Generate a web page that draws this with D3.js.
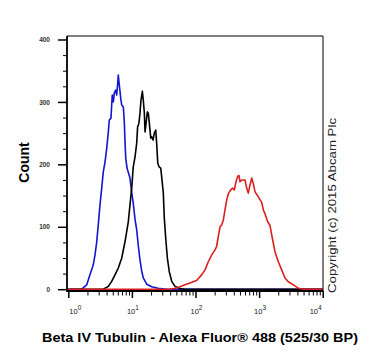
<!DOCTYPE html>
<html><head><meta charset="utf-8">
<script src="https://cdn.jsdelivr.net/npm/d3@7"></script>
<style>body{margin:0;background:#fff}</style>
</head><body><svg id="c" width="370" height="358"></svg>
<script>
const xTickValues = [1, 10, 100, 1000, 10000];
const xTickExponents = ["0", "1", "2", "3", "4"];
const yTickValues = [0, 100, 200, 300, 400];
const yMinorValues = [25,50,75,125,150,175,225,250,275,325,350,375];

const blueSeries = [[1,0],[1.62,0],[1.95,7],[2.19,23],[2.33,31],[2.47,39],[2.63,55],[2.80,76],[2.96,103],[3.15,135],[3.35,162],[3.55,188],[3.78,204],[4.02,226],[4.26,252],[4.41,271],[4.69,274],[4.81,295],[4.92,311],[5.10,300],[5.29,314],[5.56,319],[5.77,311],[5.98,330],[6.11,343],[6.34,327],[6.67,306],[6.92,295],[7.33,292],[7.60,268],[7.79,236],[8.00,210],[8.38,194],[9.33,178],[9.93,155],[10.5,138],[11.2,112],[11.9,95],[12.6,70],[13.4,47],[14.2,30],[15.1,18],[17.1,8],[20.5,4],[25.7,1.6],[35,0],[10000,0]];

const blackSeries = [[1,0],[3.55,0],[4.26,4.5],[4.81,12.5],[5.42,23],[6.11,34],[6.92,50],[7.79,76],[8.78,108],[9.33,135],[9.93,162],[10.5,196],[11.2,212],[11.9,234],[12.3,260],[12.9,266],[13.4,282],[13.9,303],[14.6,317],[15.1,303],[15.7,282],[16.1,252],[16.7,266],[17.5,284],[18.1,282],[18.8,266],[19.8,242],[20.5,244],[21.5,239],[22.5,250],[23.7,255],[24.5,234],[25.5,202],[26.7,196],[28.4,194],[29.4,180],[31.2,154],[32.3,114],[34.0,82],[36.1,50],[38.7,28],[42.3,12.5],[47.6,4.5],[57.1,1],[68.4,0],[10000,0]];

const redSeries = [[1,0],[39.7,0],[50.6,2],[68.4,7],[82,10],[104,14],[125,23],[141,31],[159,44],[180,55],[203,63],[214,68],[228,84],[243,100],[258,103],[274,111],[291,127],[310,143],[328,153],[357,159],[385,162],[408,159],[429,170],[461,181],[483,182],[501,172],[533,175],[600,175],[638,162],[676,154],[719,167],[765,178],[811,169],[863,156],[971,148],[1099,139],[1165,127],[1238,121],[1365,108],[1484,102],[1578,87],[1672,74],[1778,60],[2004,44],[2266,31],[2553,18],[2878,12],[3451,7],[4130,1.6],[4955,0],[10000,0]];

const svg = d3.select("#c");
const L = 67, T = 36, R = 323, B = 291;
const x = d3.scaleLog().domain([1, 10000]).range([68.3, 322.7]);
const y = d3.scaleLinear().domain([0, 400]).range([289.2, 39.5]);
const font = "Arial, 'Liberation Sans', sans-serif";

svg.append("defs").append("clipPath").attr("id","clip")
  .append("rect").attr("x", L).attr("y", T).attr("width", R - L).attr("height", B - T);

const line = d3.line().x(d => x(d[0])).y(d => y(d[1]));
const plot = svg.append("g").attr("clip-path", "url(#clip)");
[[blueSeries, "#1414d2"], [blackSeries, "#000"], [redSeries, "#dc1e1e"]].forEach(([s, c]) => {
  plot.append("path").datum(s).attr("d", line)
    .attr("fill", "none").attr("stroke", c).attr("stroke-width", 1.6).attr("stroke-linejoin", "round");
});

// frame top/right
svg.append("path").attr("d", `M${L},${T}H${R}V${B}`).attr("fill","none").attr("stroke","#000").attr("stroke-width",1);

// y axis
const yAxis = svg.append("g").attr("transform", `translate(${L},0)`)
  .call(d3.axisLeft(y).tickValues(yTickValues).tickSize(9).tickPadding(8).tickFormat(d3.format("d")));
yAxis.select(".domain").remove();
yAxis.selectAll(".tick line").attr("stroke-width", 1.5);
yAxis.selectAll("text").attr("font-family", font).attr("font-size", 6.5).attr("font-weight", "bold").attr("fill", "#333");
const yMinor = svg.append("g").attr("transform", `translate(${L},0)`)
  .call(d3.axisLeft(y).tickValues(yMinorValues).tickSize(4).tickFormat(""));
yMinor.select(".domain").remove();

// x axis
const xMinorValues = [];
for (let d = 1; d < 10000; d *= 10) for (let k = 2; k <= 9; k++) xMinorValues.push(d * k);
const xAxis = svg.append("g").attr("transform", `translate(0,${B})`)
  .call(d3.axisBottom(x).tickValues(xTickValues).tickSize(7).tickFormat(""));
xAxis.select(".domain").remove();
xAxis.selectAll(".tick line").attr("stroke-width", 1.5);
const xMinor = svg.append("g").attr("transform", `translate(0,${B})`)
  .call(d3.axisBottom(x).tickValues(xMinorValues).tickSize(4.5).tickFormat(""));
xMinor.select(".domain").remove();

const labelShift = [9, 3, 3, 3, -5];
xTickValues.forEach((v, i) => {
  const t = svg.append("text").attr("x", x(v) + labelShift[i] - 2).attr("y", 314)
    .attr("text-anchor", "middle").attr("font-family", font).attr("font-size", 7.5).attr("fill", "#222");
  t.append("tspan").text("10");
  t.append("tspan").attr("dy", -4).attr("font-size", 6.5).text(xTickExponents[i]);
});

// axis lines
svg.append("path").attr("d", `M${L},${T}V${B}H${R}`).attr("fill","none").attr("stroke","#000").attr("stroke-width",1.8);

// titles
svg.append("text").attr("transform", "translate(29,162.5) rotate(-90)").attr("text-anchor", "middle")
  .attr("font-family", font).attr("font-size", 14).attr("font-weight", "bold").attr("fill", "#000").text("Count");
svg.append("text").attr("x", 200).attr("y", 342).attr("text-anchor", "middle")
  .attr("font-family", font).attr("font-size", 13.5).attr("font-weight", "bold").attr("fill", "#000")
  .attr("textLength", 316).attr("lengthAdjust", "spacingAndGlyphs")
  .text("Beta IV Tubulin - Alexa Fluor® 488 (525/30 BP)");
svg.append("text").attr("transform", "translate(336,205.5) rotate(-90)").attr("text-anchor", "middle")
  .attr("font-family", font).attr("font-size", 11.5).attr("fill", "#222")
  .attr("textLength", 175).attr("lengthAdjust", "spacingAndGlyphs")
  .text("Copyright (c) 2015 Abcam Plc");
</script></body></html>
